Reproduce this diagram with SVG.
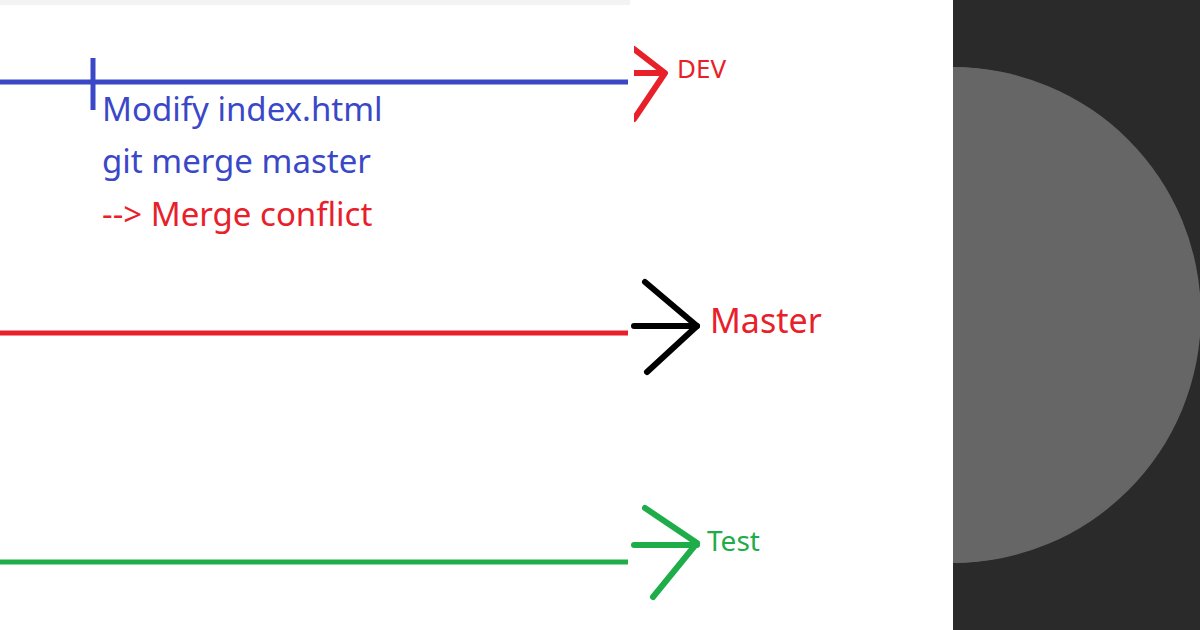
<svg xmlns="http://www.w3.org/2000/svg" width="1200" height="630" viewBox="0 0 1200 630">
<style>
.ln{fill:none;stroke-width:5;stroke-linecap:butt}
.ah{fill:none;stroke-width:6;stroke-linecap:round;stroke-linejoin:round}
text{font-family:"Noto Sans","Open Sans",sans-serif}
</style>
<rect width="1200" height="630" fill="#fff"/>
<rect width="630" height="5" fill="#f3f3f3"/>
<rect x="953" width="247" height="630" fill="#2a2a2a"/>
<path d="M953 67 A248 248 0 0 1 953 563 Z" fill="#666"/>
<circle cx="950" cy="315" r="248" fill="#666" clip-path="url(#c)"/>
<defs><clipPath id="c"><rect x="953" width="247" height="630"/></clipPath></defs>
<g id="connectors">
<line class="ln" x1="0" y1="82" x2="628" y2="82" stroke="#3a48c8"/>
<line x1="93" y1="58" x2="93" y2="110" stroke="#3a48c8" stroke-width="5"/>
<line class="ln" x1="0" y1="333" x2="628" y2="333" stroke="#e8202a"/>
<line class="ln" x1="0" y1="562" x2="628" y2="562" stroke="#1fad4a"/>
</g>
<g id="dev">
<line x1="634" y1="73" x2="664" y2="73" stroke="#e8202a" stroke-width="6"/>
<polyline class="ah" points="634,49 665,73 634,119" stroke="#e8202a" clip-path="url(#cr)"/>
<defs><clipPath id="cr"><rect x="634" y="0" width="100" height="630"/></clipPath></defs>
<text x="677" y="78" font-size="26" fill="#e8202a">DEV</text>
</g>
<g id="master">
<polyline class="ah" points="634,326 697,326" stroke="#000"/>
<polyline class="ah" points="645,282 697,326 647,372" stroke="#000"/>
<text x="710" y="333" font-size="34" fill="#e8202a">Master</text>
</g>
<g id="test">
<polyline class="ah" points="634,545 697,545" stroke="#1fad4a"/>
<polyline class="ah" points="645,508 697,543 653,597" stroke="#1fad4a"/>
<text x="707" y="551" font-size="28" fill="#1fad4a">Test</text>
</g>
<g id="note" font-size="33">
<text x="102" y="121" fill="#3a48c8">Modify index.html</text>
<text x="102" y="173" fill="#3a48c8">git merge master</text>
<text x="102" y="226" fill="#e8202a">--&gt; Merge conflict</text>
</g>
</svg>
